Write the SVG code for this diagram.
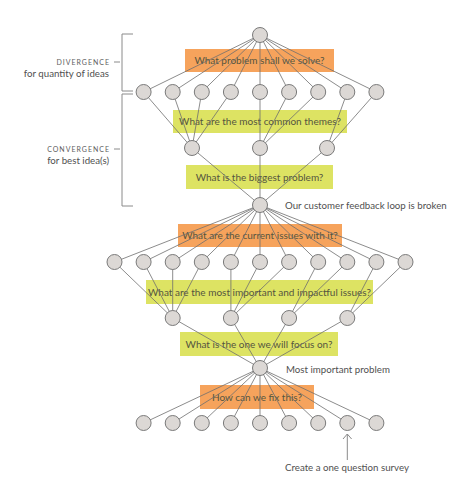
<svg xmlns="http://www.w3.org/2000/svg" width="474" height="503" viewBox="0 0 474 503">
<style>
.bg{fill:#ffffff}
.or{fill:#F6A35C}
.ye{fill:#DDE363}
.bt{font-family:Lato,"Liberation Sans",sans-serif;font-size:10px;fill:#55553f;text-anchor:middle}
.lb{font-family:Lato,"Liberation Sans",sans-serif;font-size:9.7px;fill:#505050;}
.cap{font-family:Lato,"Liberation Sans",sans-serif;font-size:7px;letter-spacing:1px;fill:#606060;text-anchor:end}
.sub{font-family:Lato,"Liberation Sans",sans-serif;font-size:9.7px;fill:#505050;text-anchor:end}
.br{fill:none;stroke:#8a8a8a;stroke-width:1}
.cn line{stroke:#6f6f6f;stroke-width:0.8}
.nd{fill:#DCD8D5;stroke:#7a7a7a;stroke-width:1}
</style>
<rect class="bg" x="0" y="0" width="474" height="503"/>

<g id="brackets">
<path class="br" d="M133,34 H122 V91 H133 M133,94 H122 V206 H133 M114,62 H120 M114,149 H120"/>
<text class="cap" x="110" y="65">DIVERGENCE</text>
<text class="sub" x="109" y="77">for quantity of ideas</text>
<text class="cap" x="110" y="152">CONVERGENCE</text>
<text class="sub" x="109" y="164">for best idea(s)</text>
</g>

<g id="q1"><rect class="or" x="185" y="49" width="149" height="23"/><text class="bt" x="259.5" y="64">What problem shall we solve?</text></g>
<g id="q2"><rect class="ye" x="173" y="110" width="174" height="23"/><text class="bt" x="260" y="125">What are the most common themes?</text></g>
<g id="q3"><rect class="ye" x="186" y="165" width="147" height="24"/><text class="bt" x="259.5" y="180.5">What is the biggest problem?</text></g>
<g id="q4"><rect class="or" x="178" y="224" width="164" height="23"/><text class="bt" x="260" y="239">What are the current issues with it?</text></g>
<g id="q5"><rect class="ye" x="146" y="280" width="227" height="24"/><text class="bt" x="259.5" y="295.5">What are the most important and impactful issues?</text></g>
<g id="q6"><rect class="ye" x="180" y="332" width="158" height="24"/><text class="bt" x="259" y="347.5">What is the one we will focus on?</text></g>
<g id="q7"><rect class="or" x="200" y="385" width="114" height="24"/><text class="bt" x="257" y="400.5">How can we fix this?</text></g>

<g id="connectors" class="cn">
<line x1="260" y1="35" x2="143.6" y2="92"/><line x1="260" y1="35" x2="172.7" y2="92"/><line x1="260" y1="35" x2="201.8" y2="92"/><line x1="260" y1="35" x2="230.9" y2="92"/><line x1="260" y1="35" x2="260" y2="92"/><line x1="260" y1="35" x2="289.1" y2="92"/><line x1="260" y1="35" x2="318.2" y2="92"/><line x1="260" y1="35" x2="347.3" y2="92"/><line x1="260" y1="35" x2="376.4" y2="92"/>
<line x1="143.6" y1="92" x2="192" y2="148"/><line x1="172.7" y1="92" x2="192" y2="148"/><line x1="201.8" y1="92" x2="192" y2="148"/><line x1="230.9" y1="92" x2="192" y2="148"/>
<line x1="260" y1="92" x2="260" y2="148"/><line x1="289.1" y1="92" x2="260" y2="148"/><line x1="318.2" y1="92" x2="260" y2="148"/>
<line x1="347.3" y1="92" x2="327" y2="148"/><line x1="376.4" y1="92" x2="327" y2="148"/>
<line x1="192" y1="148" x2="260" y2="205"/><line x1="260" y1="148" x2="260" y2="205"/><line x1="327" y1="148" x2="260" y2="205"/>
<line x1="260" y1="205" x2="114.5" y2="262"/><line x1="260" y1="205" x2="143.6" y2="262"/><line x1="260" y1="205" x2="172.7" y2="262"/><line x1="260" y1="205" x2="201.8" y2="262"/><line x1="260" y1="205" x2="230.9" y2="262"/><line x1="260" y1="205" x2="260" y2="262"/><line x1="260" y1="205" x2="289.1" y2="262"/><line x1="260" y1="205" x2="318.2" y2="262"/><line x1="260" y1="205" x2="347.3" y2="262"/><line x1="260" y1="205" x2="376.4" y2="262"/><line x1="260" y1="205" x2="405.5" y2="262"/>
<line x1="114.5" y1="262" x2="172.7" y2="318"/><line x1="143.6" y1="262" x2="172.7" y2="318"/><line x1="172.7" y1="262" x2="172.7" y2="318"/><line x1="201.8" y1="262" x2="172.7" y2="318"/>
<line x1="230.9" y1="262" x2="230.9" y2="318"/><line x1="260" y1="262" x2="230.9" y2="318"/><line x1="289.1" y1="262" x2="230.9" y2="318"/>
<line x1="318.2" y1="262" x2="289.1" y2="318"/><line x1="347.3" y1="262" x2="289.1" y2="318"/>
<line x1="376.4" y1="262" x2="347.3" y2="318"/><line x1="405.5" y1="262" x2="347.3" y2="318"/>
<line x1="172.7" y1="318" x2="260" y2="368"/><line x1="230.9" y1="318" x2="260" y2="368"/><line x1="289.1" y1="318" x2="260" y2="368"/><line x1="347.3" y1="318" x2="260" y2="368"/>
<line x1="260" y1="368" x2="143.6" y2="423"/><line x1="260" y1="368" x2="172.7" y2="423"/><line x1="260" y1="368" x2="201.8" y2="423"/><line x1="260" y1="368" x2="230.9" y2="423"/><line x1="260" y1="368" x2="260" y2="423"/><line x1="260" y1="368" x2="289.1" y2="423"/><line x1="260" y1="368" x2="318.2" y2="423"/><line x1="260" y1="368" x2="347.3" y2="423"/><line x1="260" y1="368" x2="376.4" y2="423"/>
</g>

<g id="nodes">
<circle id="n0" class="nd" cx="260" cy="35" r="7.5"/>
<g id="row1">
<circle class="nd" cx="143.6" cy="92" r="7.5"/><circle class="nd" cx="172.7" cy="92" r="7.5"/><circle class="nd" cx="201.8" cy="92" r="7.5"/><circle class="nd" cx="230.9" cy="92" r="7.5"/><circle class="nd" cx="260" cy="92" r="7.5"/><circle class="nd" cx="289.1" cy="92" r="7.5"/><circle class="nd" cx="318.2" cy="92" r="7.5"/><circle class="nd" cx="347.3" cy="92" r="7.5"/><circle class="nd" cx="376.4" cy="92" r="7.5"/>
</g>
<g id="row2">
<circle class="nd" cx="192" cy="148" r="7.5"/><circle class="nd" cx="260" cy="148" r="7.5"/><circle class="nd" cx="327" cy="148" r="7.5"/>
</g>
<circle id="hub1" class="nd" cx="260" cy="205" r="7.5"/>
<g id="row3">
<circle class="nd" cx="114.5" cy="262" r="7.5"/><circle class="nd" cx="143.6" cy="262" r="7.5"/><circle class="nd" cx="172.7" cy="262" r="7.5"/><circle class="nd" cx="201.8" cy="262" r="7.5"/><circle class="nd" cx="230.9" cy="262" r="7.5"/><circle class="nd" cx="260" cy="262" r="7.5"/><circle class="nd" cx="289.1" cy="262" r="7.5"/><circle class="nd" cx="318.2" cy="262" r="7.5"/><circle class="nd" cx="347.3" cy="262" r="7.5"/><circle class="nd" cx="376.4" cy="262" r="7.5"/><circle class="nd" cx="405.5" cy="262" r="7.5"/>
</g>
<g id="row4">
<circle class="nd" cx="172.7" cy="318" r="7.5"/><circle class="nd" cx="230.9" cy="318" r="7.5"/><circle class="nd" cx="289.1" cy="318" r="7.5"/><circle class="nd" cx="347.3" cy="318" r="7.5"/>
</g>
<circle id="hub2" class="nd" cx="260" cy="368" r="7.5"/>
<g id="row5">
<circle class="nd" cx="143.6" cy="423" r="7.5"/><circle class="nd" cx="172.7" cy="423" r="7.5"/><circle class="nd" cx="201.8" cy="423" r="7.5"/><circle class="nd" cx="230.9" cy="423" r="7.5"/><circle class="nd" cx="260" cy="423" r="7.5"/><circle class="nd" cx="289.1" cy="423" r="7.5"/><circle class="nd" cx="318.2" cy="423" r="7.5"/><circle class="nd" cx="347.3" cy="423" r="7.5"/><circle class="nd" cx="376.4" cy="423" r="7.5"/>
</g>
</g>

<g id="annotations">
<text class="lb" x="285" y="209">Our customer feedback loop is broken</text>
<text class="lb" x="286" y="372.5">Most important problem</text>
<path d="M347.3,460 V434 M343,439 L347.3,434 L351.6,439" fill="none" stroke="#8a8a8a" stroke-width="1"/>
<text class="lb" x="285" y="471">Create a one question survey</text>
</g>
</svg>
